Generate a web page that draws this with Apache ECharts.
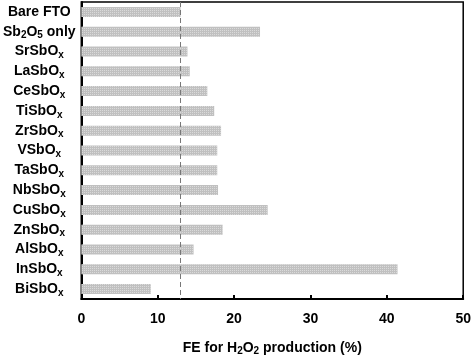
<!DOCTYPE html>
<html>
<head>
<meta charset="utf-8">
<script src="https://cdn.jsdelivr.net/npm/echarts@6/dist/echarts.min.js"></script>
<style>
  html, body { margin: 0; padding: 0; background: #fff; }
  #chart { width: 474px; height: 361px; }
</style>
</head>
<body>
<div id="chart"></div>
<script>
// categories top to bottom, written with rich-text subscripts
const categories = ['Bare FTO', 'Sb{s|2}O{s|5} only', 'SrSbO{s|x}', 'LaSbO{s|x}', 'CeSbO{s|x}',
  'TiSbO{s|x}', 'ZrSbO{s|x}', 'VSbO{s|x}', 'TaSbO{s|x}', 'NbSbO{s|x}', 'CuSbO{s|x}',
  'ZnSbO{s|x}', 'AlSbO{s|x}', 'InSbO{s|x}', 'BiSbO{s|x}'];
const feValues = [13.0, 23.4, 13.9, 14.2, 16.5, 17.4, 18.3, 17.8, 17.8, 17.9, 24.4, 18.5, 14.7, 41.4, 9.1];
const baseline = 13.0;
const xTicks = [0, 10, 20, 30, 40, 50];

const chart = echarts.init(document.getElementById('chart'));
const font = 'Liberation Sans, Arial, sans-serif';

chart.setOption({
  animation: false,
  aria: { enabled: true, decal: { show: true } },
  grid: {
    left: 79, right: 10, top: 2, bottom: 54,
    show: true, borderColor: '#000', borderWidth: 1.5, backgroundColor: '#fff'
  },
  xAxis: {
    type: 'value',
    min: xTicks[0], max: xTicks[xTicks.length - 1], interval: 10,
    name: 'FE for H{s|2}O{s|2} production (%)',
    nameLocation: 'middle', nameGap: 41,
    nameTextStyle: {
      fontFamily: font, fontWeight: 'bold', fontSize: 14, color: '#000',
      rich: { s: { fontFamily: font, fontWeight: 'bold', fontSize: 10, color: '#000', verticalAlign: 'bottom', padding: [6, 0, 0, 0] } }
    },
    axisLine: { show: true, lineStyle: { color: '#000', width: 2 } },
    axisTick: { show: true, inside: true, length: 4, lineStyle: { color: '#000', width: 2 } },
    axisLabel: { fontFamily: font, fontWeight: 'bold', fontSize: 14, color: '#000', margin: 13 },
    splitLine: { show: false }
  },
  yAxis: {
    type: 'category',
    inverse: true,
    data: categories,
    axisLine: { show: true, lineStyle: { color: '#000', width: 2 } },
    axisTick: { show: false },
    axisLabel: {
      fontFamily: font, fontWeight: 'bold', fontSize: 14, color: '#000',
      align: 'center', margin: 42,
      rich: { s: { fontFamily: font, fontWeight: 'bold', fontSize: 10, color: '#000', padding: [8, 0, 0, 0] } }
    }
  },
  series: [{
    type: 'bar',
    data: feValues,
    barWidth: 10,
    itemStyle: {
      color: '#c0c0c0',
      decal: {
        symbol: 'rect', symbolSize: 1,
        dashArrayX: [1, 1], dashArrayY: [1, 1],
        color: 'rgba(235,235,235,0.6)', rotation: 0
      }
    },
    markLine: {
      silent: true, symbol: 'none', label: { show: false },
      lineStyle: { color: '#777', type: [5, 3], width: 1 },
      data: [{ xAxis: baseline }]
    }
  }]
});
</script>
</body>
</html>
